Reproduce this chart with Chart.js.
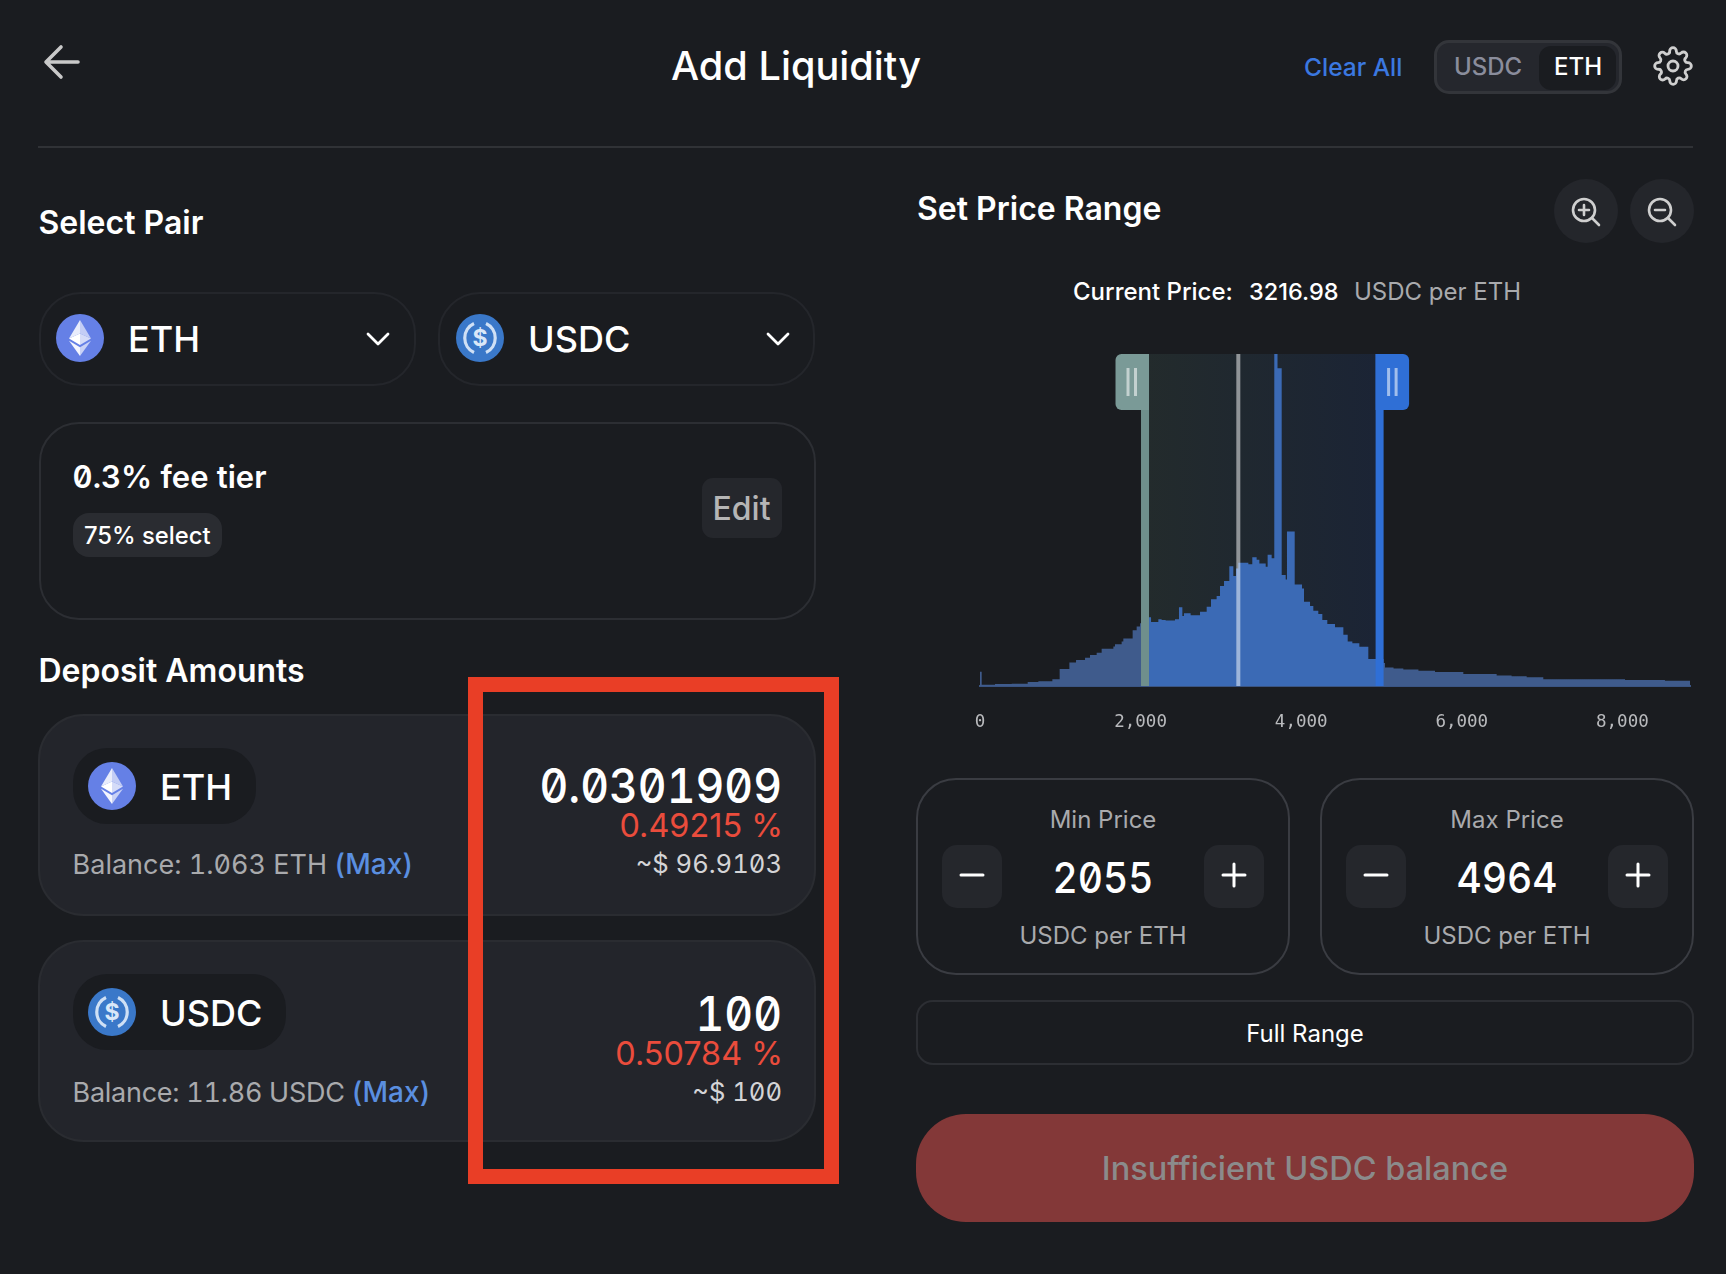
<!DOCTYPE html>
<html>
<head>
<meta charset="utf-8">
<title>Add Liquidity</title>
<script src="https://cdn.jsdelivr.net/npm/chart.js@4"></script>
<style>
  html, body { margin: 0; padding: 0; background: #1a1c20; }
  body { position: relative; width: 1726px; height: 1274px; overflow: hidden; font-family: Inter, sans-serif; color: #fff; }
  .box, .t, svg, canvas { position: absolute; }
  .box { box-sizing: border-box; }
  .t { line-height: 1; white-space: nowrap; transform: translateY(-50%); }
  .c { transform: translate(-50%, -50%); }
  .r { right: 944px; text-align: right; }
  .num { font-feature-settings: "zero", "tnum"; }
  .sec { font-size: 32px; font-weight: 600; }
  .grey { color: #a9aaad; }
  .blue { color: #5a8fe0; }
  .big { font-size: 44.5px; font-weight: 500; transform-origin: right center; transform: translateY(-50%) scaleY(1.08); }
  .pct { font-size: 32.4px; color: #ea4c3c; right: 943px; line-height: 0.9; }
  .usd { font-size: 25.6px; color: #d4d4d6; }
  .token { font-size: 36px; font-weight: 500; }
  .bal { font-size: 27px; color: #a9aaad; }
  .max { font-size: 28px; font-weight: 500; color: #5a8fe0; letter-spacing: 0; }
  .small { font-size: 24px; }
  .step { background: #25272c; border-radius: 15px; width: 60px; height: 63px; top: 845px; }
  .price { font-size: 39px; font-weight: 500; transform: translate(-50%, -50%) scaleY(1.1); }
</style>
</head>
<body>

<!-- header -->
<svg style="left:41px;top:42px" width="42" height="42" viewBox="0 0 42 42" fill="none" stroke="#c9c9c9" stroke-width="3.6" stroke-linecap="round" stroke-linejoin="round"><path d="M37 20H6M20 5 5 20l15 15"/></svg>
<div class="t c" style="left:796px;top:66.5px;font-size:39.7px;font-weight:500">Add Liquidity</div>
<div class="t" style="left:1304px;top:67px;font-size:24.5px;font-weight:500;color:#3b78e0">Clear All</div>
<div class="box" style="left:1434px;top:40px;width:188px;height:54px;background:#25272d;border:3px solid #33353a;border-radius:15px"></div>
<div class="box" style="left:1539px;top:46px;width:77px;height:44px;background:#1a1c20;border-radius:12px"></div>
<div class="t" style="left:1454px;top:67px;font-size:24px;font-weight:500;color:#8a8d9c">USDC</div>
<div class="t" style="left:1554px;top:67px;font-size:24px;font-weight:500">ETH</div>
<svg style="left:1653px;top:46px" width="40" height="40" viewBox="0 0 24 24" fill="none" stroke="#cfcfcf" stroke-width="1.7" stroke-linecap="round" stroke-linejoin="round"><circle cx="12" cy="12" r="3"/><path d="M19.4 15a1.65 1.65 0 0 0 .33 1.82l.06.06a2 2 0 1 1-2.83 2.83l-.06-.06a1.65 1.65 0 0 0-2.82 1.17V21a2 2 0 0 1-4 0v-.09a1.65 1.65 0 0 0-2.82-1.17l-.06.06a2 2 0 1 1-2.83-2.83l.06-.06A1.65 1.65 0 0 0 3.09 14H3a2 2 0 0 1 0-4h.09a1.65 1.65 0 0 0 1.17-2.82l-.06-.06a2 2 0 1 1 2.83-2.83l.06.06A1.65 1.65 0 0 0 10 3.09V3a2 2 0 0 1 4 0v.09a1.65 1.65 0 0 0 2.82 1.17l.06-.06a2 2 0 1 1 2.83 2.83l-.06.06A1.65 1.65 0 0 0 20.91 10H21a2 2 0 0 1 0 4h-.09a1.65 1.65 0 0 0-1.51 1z"/></svg>
<div class="box" style="left:38px;top:145.5px;width:1655px;height:2px;background:#303236"></div>

<!-- select pair -->
<div class="t sec" style="left:38.5px;top:223px">Select Pair</div>
<div class="box" style="left:38.5px;top:292px;width:377px;height:94px;border:2px solid #24262b;border-radius:42px"></div>
<div class="box" style="left:438px;top:292px;width:377px;height:94px;border:2px solid #24262b;border-radius:42px"></div>
<svg style="left:55.5px;top:314px" width="48" height="48" viewBox="0 0 48 48"><use href="#eth"/></svg>
<svg style="left:456px;top:314px" width="48" height="48" viewBox="0 0 48 48"><use href="#usdc"/></svg>
<div class="t token" style="left:128px;top:339px">ETH</div>
<div class="t token" style="left:528px;top:339px">USDC</div>
<svg style="left:364px;top:331px" width="28" height="18" viewBox="0 0 28 18" fill="none" stroke="#fff" stroke-width="2.8" stroke-linecap="round" stroke-linejoin="round"><path d="M4 3l10 10L24 3"/></svg>
<svg style="left:764px;top:331px" width="28" height="18" viewBox="0 0 28 18" fill="none" stroke="#fff" stroke-width="2.8" stroke-linecap="round" stroke-linejoin="round"><path d="M4 3l10 10L24 3"/></svg>

<!-- fee tier -->
<div class="box" style="left:38.5px;top:422px;width:777px;height:198px;border:2px solid #2c2e33;border-radius:40px"></div>
<div class="t num" style="left:72.6px;top:476px;font-size:31px;font-weight:600">0.3% fee tier</div>
<div class="box" style="left:72.6px;top:513px;width:149px;height:44px;background:#2a2c31;border-radius:16px"></div>
<div class="t" style="left:84px;top:536px;font-size:23.8px;font-weight:500">75% select</div>
<div class="box" style="left:702px;top:478px;width:80px;height:60px;background:#25272c;border-radius:11px"></div>
<div class="t c" style="left:741.5px;top:509px;font-size:32px;color:#b5b5b5;font-weight:500">Edit</div>

<!-- deposit amounts -->
<div class="t sec" style="left:38.5px;top:671px">Deposit Amounts</div>
<div class="box" style="left:38px;top:714px;width:778px;height:202px;background:#23252b;border:2px solid #2a2c31;border-radius:46px"></div>
<div class="box" style="left:38px;top:940px;width:778px;height:202px;background:#23252b;border:2px solid #2a2c31;border-radius:46px"></div>
<div class="box" style="left:72.6px;top:748px;width:183px;height:76px;background:#1a1c20;border-radius:34px"></div>
<div class="box" style="left:72.6px;top:974px;width:213px;height:76px;background:#1a1c20;border-radius:34px"></div>
<svg style="left:88px;top:762px" width="48" height="48" viewBox="0 0 48 48"><use href="#eth"/></svg>
<svg style="left:88px;top:988px" width="48" height="48" viewBox="0 0 48 48"><use href="#usdc"/></svg>
<div class="t token" style="left:160px;top:787px">ETH</div>
<div class="t token" style="left:160px;top:1013px">USDC</div>
<div class="t bal num" style="left:72.6px;top:864px">Balance: 1.063 ETH <span class="max">(Max)</span></div>
<div class="t bal num" style="left:72.6px;top:1092px;letter-spacing:-0.28px">Balance: 11.86 USDC <span class="max">(Max)</span></div>
<div class="t r big num" style="top:785.5px">0.0301909</div>
<div class="t r pct" style="top:826px">0.49215 %</div>
<div class="t r usd num" style="top:864px">~$ 96.9103</div>
<div class="t r big num" style="top:1013.5px">100</div>
<div class="t r pct" style="top:1054px">0.50784 %</div>
<div class="t r usd num" style="top:1092px">~$ 100</div>

<!-- price range -->
<div class="t sec" style="left:917px;top:209px">Set Price Range</div>
<div class="box" style="left:1554px;top:179px;width:64px;height:64px;border-radius:50%;background:#24262b"></div>
<div class="box" style="left:1630px;top:179px;width:64px;height:64px;border-radius:50%;background:#24262b"></div>
<svg style="left:1570px;top:196px" width="32" height="32" viewBox="0 0 32 32" fill="none" stroke="#cfcfcf" stroke-width="2.6" stroke-linecap="round"><circle cx="14" cy="14" r="11"/><path d="M22 22l7 7M14 9v10M9 14h10"/></svg>
<svg style="left:1646px;top:196px" width="32" height="32" viewBox="0 0 32 32" fill="none" stroke="#cfcfcf" stroke-width="2.6" stroke-linecap="round"><circle cx="14" cy="14" r="11"/><path d="M22 22l7 7M9 14h10"/></svg>
<div class="t small" style="left:1073px;top:292px;font-weight:500">Current Price:</div>
<div class="t" style="left:1249px;top:292px;font-size:23.5px;font-weight:500">3216.98</div>
<div class="t small grey" style="left:1354px;top:292px">USDC per ETH</div>

<canvas id="rangeChart" width="766" height="400" style="left:960px;top:340px"></canvas>

<!-- min / max -->
<div class="box" style="left:916px;top:778px;width:374px;height:197px;border:2px solid #3a3c42;border-radius:40px"></div>
<div class="box" style="left:1320px;top:778px;width:374px;height:197px;border:2px solid #3a3c42;border-radius:40px"></div>
<div class="t c small grey" style="left:1103px;top:820px">Min Price</div>
<div class="t c small grey" style="left:1507px;top:820px">Max Price</div>
<div class="t c small grey" style="left:1103px;top:936px">USDC per ETH</div>
<div class="t c small grey" style="left:1507px;top:936px">USDC per ETH</div>
<div class="t price num" style="left:1103px;top:877px">2055</div>
<div class="t price num" style="left:1507px;top:877px">4964</div>
<div class="box step" style="left:942px"></div>
<div class="box step" style="left:1204px"></div>
<div class="box step" style="left:1346px"></div>
<div class="box step" style="left:1608px"></div>
<svg style="left:942px;top:845px" width="60" height="63" fill="none" stroke="#fff" stroke-width="3" stroke-linecap="round"><path d="M19 30h22"/></svg>
<svg style="left:1204px;top:845px" width="60" height="63" fill="none" stroke="#fff" stroke-width="3" stroke-linecap="round"><path d="M19 30h22M30 19v22"/></svg>
<svg style="left:1346px;top:845px" width="60" height="63" fill="none" stroke="#fff" stroke-width="3" stroke-linecap="round"><path d="M19 30h22"/></svg>
<svg style="left:1608px;top:845px" width="60" height="63" fill="none" stroke="#fff" stroke-width="3" stroke-linecap="round"><path d="M19 30h22M30 19v22"/></svg>
<div class="box" style="left:916px;top:1000px;width:778px;height:65px;border:2px solid #2c2e33;border-radius:17px"></div>
<div class="t c small" style="left:1305px;top:1034px">Full Range</div>
<div class="box" style="left:916px;top:1114px;width:778px;height:108px;background:#833838;border-radius:50px"></div>
<div class="t c" style="left:1305px;top:1169px;font-size:32.5px;font-weight:500;color:#8b8b8b">Insufficient USDC balance</div>

<!-- highlight box -->
<div class="box" style="left:468px;top:677px;width:371px;height:507px;border:15px solid #e93e26"></div>

<svg width="0" height="0" style="left:0;top:0">
  <defs>
    <g id="eth">
      <circle cx="24" cy="24" r="24" fill="#6580e6"/>
      <path d="M24 6v13.5L13 24.5z" fill="#e8ecfb"/>
      <path d="M24 6v13.5l11 5z" fill="#c3cdf5"/>
      <path d="M24 19.5 13 24.5l11 6.5z" fill="#fff"/>
      <path d="M24 19.5l11 5-11 6.5z" fill="#d5dcf8"/>
      <path d="M13 26.7 24 42V33.2z" fill="#f4f6fe"/>
      <path d="M35 26.7 24 42V33.2z" fill="#c9d2f6"/>
    </g>
    <g id="usdc">
      <circle cx="24" cy="24" r="24" fill="#3a78c9"/>
      <path d="M18 9.5a16 16 0 0 0 0 29M30 9.5a16 16 0 0 1 0 29" fill="none" stroke="#cfe0f5" stroke-width="3.2"/>
      <text x="24" y="32" text-anchor="middle" font-family="Inter" font-size="23" font-weight="700" fill="#d9e7f8">$</text>
    </g>
  </defs>
</svg>

<script>
// liquidity histogram: each value holds from its price up to the next price
const priceBreaks = [0, 21, 187, 395, 594, 727, 901, 992, 1113, 1196, 1308, 1370, 1453, 1515, 1661, 1681, 1764, 1785, 1901, 1951, 1993, 2096, 2130, 2221, 2262, 2312, 2428, 2478, 2520, 2540, 2623, 2740, 2823, 2877, 2947, 2989, 3039, 3105, 3155, 3188, 3217, 3342, 3391, 3445, 3479, 3558, 3582, 3632, 3665, 3705, 3757, 3807, 3823, 3919, 4010, 4035, 4110, 4151, 4213, 4263, 4325, 4421, 4525, 4579, 4637, 4724, 4836, 5027, 5044, 5150, 5272, 5460, 5666, 6019, 6434, 6620, 6808, 7015, 8033, 8530, 8842];
const liquidity = [4.3, 0.4, 0.6, 0.7, 1.2, 1.4, 2.0, 5.1, 7.1, 7.8, 8.5, 9.3, 10.0, 11.2, 11.9, 12.6, 13.4, 14.3, 16.8, 17.9, 18.9, 20.7, 19.3, 20.1, 19.9, 19.7, 20.1, 23.7, 21.1, 21.9, 21.3, 22.4, 23.9, 26.1, 27.1, 30.1, 31.6, 36.1, 33.1, 35.4, 37.1, 36.7, 38.8, 38.0, 36.9, 35.9, 39.5, 38.5, 120, 95.7, 33.4, 32.1, 46.5, 30.6, 29.4, 25.4, 24.1, 22.7, 21.7, 19.9, 18.7, 17.7, 15.4, 13.4, 12.9, 11.8, 8.1, 6.9, 5.6, 5.3, 5.0, 4.6, 4.2, 3.6, 3.2, 2.9, 2.6, 2.0, 1.8, 1.6, 1.6];
const tickValues = [0, 2000, 4000, 6000, 8000];
const minPrice = 2055;
const maxPrice = 4964;
const currentPrice = 3216.98;

const axisMax = 8842;
const greenLine = '#6f8f8c';
const greenHandle = '#7a9a97';
const blueLine = '#2f6fd6';

// colours the histogram brighter between the two handles
function rangeFill(context) {
  const chart = context.chart;
  const area = chart.chartArea;
  if (!area) return '#3f5b8c';
  const x = chart.scales.x;
  const g = chart.ctx.createLinearGradient(area.left, 0, area.right, 0);
  const a = (x.getPixelForValue(minPrice) - area.left) / area.width;
  const b = (x.getPixelForValue(maxPrice) - area.left) / area.width;
  g.addColorStop(0, '#3f5b8c');
  g.addColorStop(a, '#3f5b8c');
  g.addColorStop(a, '#3b6ab5');
  g.addColorStop(b, '#3b6ab5');
  g.addColorStop(b, '#3f5b8c');
  g.addColorStop(1, '#3f5b8c');
  return g;
}

const rangePlugin = {
  id: 'rangePlugin',
  beforeDatasetsDraw(chart) {
    const { ctx, chartArea: area, scales: { x } } = chart;
    const left = x.getPixelForValue(minPrice);
    const right = x.getPixelForValue(maxPrice);
    const band = ctx.createLinearGradient(left, 0, right, 0);
    band.addColorStop(0, '#232b2c');
    band.addColorStop(1, '#1b2435');
    ctx.fillStyle = band;
    ctx.fillRect(left, area.top, right - left, area.height);
  },
  afterDatasetsDraw(chart) {
    const { ctx, chartArea: area, scales: { x } } = chart;
    const left = x.getPixelForValue(minPrice);
    const right = x.getPixelForValue(maxPrice);
    const now = x.getPixelForValue(currentPrice);

    ctx.fillStyle = 'rgba(255,255,255,0.5)';
    ctx.fillRect(now - 2, area.top, 4, area.height);

    ctx.fillStyle = greenLine;
    ctx.fillRect(left - 4, area.top, 8, area.height);
    ctx.fillStyle = blueLine;
    ctx.fillRect(right - 3, area.top, 8, area.height);

    // drag handles
    ctx.fillStyle = greenHandle;
    ctx.beginPath();
    ctx.roundRect(left - 29.5, area.top, 33.5, 56, [6, 0, 0, 6]);
    ctx.fill();
    ctx.fillStyle = blueLine;
    ctx.beginPath();
    ctx.roundRect(right - 3, area.top, 33.5, 56, [0, 6, 6, 0]);
    ctx.fill();

    ctx.fillStyle = 'rgba(255,255,255,0.55)';
    [left - 18.5, left - 11, right + 8.5, right + 16].forEach(gx => {
      ctx.fillRect(gx, area.top + 14, 3, 28);
    });
  }
};

new Chart(document.getElementById('rangeChart'), {
  type: 'line',
  data: {
    datasets: [{
      data: priceBreaks.map((p, i) => ({ x: p, y: liquidity[i] })),
      stepped: true,
      fill: 'origin',
      borderWidth: 0,
      pointRadius: 0,
      backgroundColor: rangeFill
    }]
  },
  options: {
    responsive: false,
    animation: false,
    devicePixelRatio: 1,
    layout: { padding: { left: 20, right: 36, top: 14, bottom: 0 } },
    plugins: { legend: { display: false }, tooltip: { enabled: false } },
    scales: {
      x: {
        type: 'linear',
        min: 0,
        max: axisMax,
        // tick padding also widens the side margins, so drop those
        afterFit: scale => {
          scale.height = 54;
          scale.paddingLeft = 0;
          scale.paddingRight = 0;
        },
        afterBuildTicks: scale => { scale.ticks = tickValues.map(value => ({ value })); },
        grid: { display: false, drawTicks: false },
        border: { display: true, color: '#3a5482', width: 2 },
        ticks: {
          color: '#b9babd',
          padding: 26,
          maxRotation: 0,
          font: { family: '"DejaVu Sans Mono", monospace', size: 17.5 },
          callback: value => value.toLocaleString('en-US')
        }
      },
      y: { display: false, min: 0, max: 100 }
    }
  },
  plugins: [rangePlugin]
});
</script>
</body>
</html>
